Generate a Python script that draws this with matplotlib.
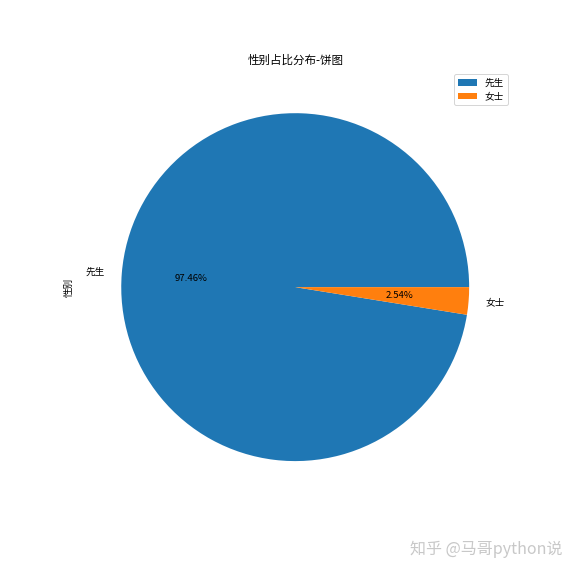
import matplotlib
matplotlib.use("Agg")
import matplotlib.pyplot as plt

plt.rcParams['font.family'] = ['Noto Sans CJK SC', 'DejaVu Sans']
plt.rcParams['font.size'] = 9.6
plt.rcParams['axes.unicode_minus'] = False

labels = ["先生", "女士"]
values = [97.46, 2.54]
colors = ["#1f77b4", "#ff7f0e"]

fig = plt.figure(figsize=(8, 8), dpi=72)
ax = fig.add_axes([0.135, 0.124, 0.755, 0.755])
ax.pie(values, labels=labels, colors=colors, autopct="%.2f%%")
ax.set_ylabel("性别")
ax.set_title("性别占比分布-饼图")
ax.legend(loc="upper right")

# watermark
fig.text(0.977, 0.047, "知乎 @马哥python说", ha="right", va="center",
         fontsize=16, color="#c8c8c8")

plt.savefig("out.png", dpi=72)
